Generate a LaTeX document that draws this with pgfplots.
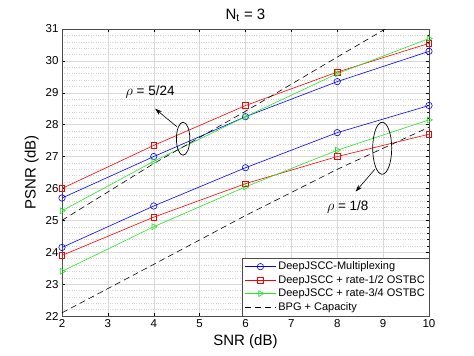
\documentclass[border=0pt]{standalone}
\usepackage{pgfplots}
\pgfplotsset{compat=1.18}
\usepackage{fontspec}
\setmainfont{Liberation Sans}
\usetikzlibrary{arrows.meta}
\definecolor{mblue}{rgb}{0,0,1}
\definecolor{mred}{rgb}{1,0,0}
\definecolor{mgreen}{rgb}{0.15,0.9,0.15}
\begin{document}
\begin{tikzpicture}
\path[use as bounding box] (-62pt,-40pt) rectangle (412pt,316pt);
\begin{axis}[
  scale only axis, width=367pt, height=287pt,
  at={(0,0)}, anchor=south west,
  xmin=2, xmax=10, ymin=22, ymax=31,
  xtick={2,3,...,10}, ytick={22,23,...,31},
  minor y tick num=4,
  grid=both,
  major grid style={gray!30, line width=0.4pt},
  minor grid style={gray!35, dotted, line width=0.4pt},
  tick align=inside,
  tick style={black, line width=0.4pt},
  major tick length=3pt, minor tick length=1.5pt,
  axis line style={black!70, line width=0.5pt},
  ticklabel style={font=\fontsize{11.5}{12}\selectfont},
  /pgf/number format/assume math mode=true,
  xlabel={SNR (dB)}, ylabel={PSNR (dB)},
  label style={font=\fontsize{15}{16}\selectfont},
  title={N$_\mathrm{t}$ = 3},
  title style={font=\fontsize{15}{16}\selectfont, yshift=-2pt},
  legend style={at={(1,0)}, anchor=south east, draw=black!70, font=\fontsize{11}{13}\selectfont, row sep=0pt, inner sep=2pt},
  legend cell align=left,
  legend image code/.code={\draw[mark repeat=2,mark phase=2,#1] plot coordinates {(0cm,0cm) (0.55cm,0cm) (1.1cm,0cm)};},
  every axis plot/.append style={line width=0.6pt},
]
% rho = 5/24 group
\addplot[mblue, mark=o, mark size=3.2pt, mark options={solid}] coordinates {(2,25.7) (4,27.0) (6,28.25) (8,29.35) (10,30.3)};
\addlegendentry{DeepJSCC-Multiplexing}
\addplot[mred, mark=square, mark size=2.8pt, mark options={solid}] coordinates {(2,26.0) (4,27.35) (6,28.6) (8,29.65) (10,30.55)};
\addlegendentry{DeepJSCC + rate-1/2 OSTBC}
\addplot[mgreen, mark=triangle, mark size=3.4pt, mark options={solid, rotate=-90}] coordinates {(2,25.3) (4,26.85) (6,28.25) (8,29.6) (10,30.7)};
\addlegendentry{DeepJSCC + rate-3/4 OSTBC}
\addplot[black, dashed, dash pattern=on 6pt off 4pt] coordinates {(2,25.0) (4,26.78) (6,28.42) (8,30.12) (10,31.8)};
\addlegendentry{BPG + Capacity}
% rho = 1/8 group
\addplot[mblue, mark=o, mark size=3.2pt, forget plot] coordinates {(2,24.15) (4,25.45) (6,26.65) (8,27.75) (10,28.6)};
\addplot[mred, mark=square, mark size=2.8pt, forget plot] coordinates {(2,23.9) (4,25.1) (6,26.15) (8,27.0) (10,27.7)};
\addplot[mgreen, mark=triangle, mark size=3.4pt, mark options={rotate=-90}, forget plot] coordinates {(2,23.4) (4,24.8) (6,26.05) (8,27.2) (10,28.15)};
\addplot[black, dashed, dash pattern=on 6pt off 4pt, forget plot] coordinates {(2,22.1) (4,23.62) (6,25.15) (8,26.6) (10,27.92)};
% annotations
\draw[black, line width=0.7pt] (axis cs:4.64,27.56) ellipse [x radius=6.7pt, y radius=16.5pt];
\draw[black, line width=0.7pt] (axis cs:8.98,27.26) ellipse [x radius=9.5pt, y radius=26pt];
\draw[black, line width=0.6pt, -{Stealth[length=7pt,width=4.5pt]}] (axis cs:4.5,27.94) -- (axis cs:4.03,28.5);
\draw[black, line width=0.6pt, -{Stealth[length=7pt,width=4.5pt]}] (axis cs:8.82,26.6) -- (axis cs:8.4,25.9);
\node[font=\fontsize{13.5}{14}\selectfont] at (axis cs:3.92,29.02) {$\rho$ = 5/24};
\node[font=\fontsize{13.5}{14}\selectfont] at (axis cs:8.23,25.42) {$\rho$ = 1/8};
\end{axis}
\end{tikzpicture}
\end{document}
